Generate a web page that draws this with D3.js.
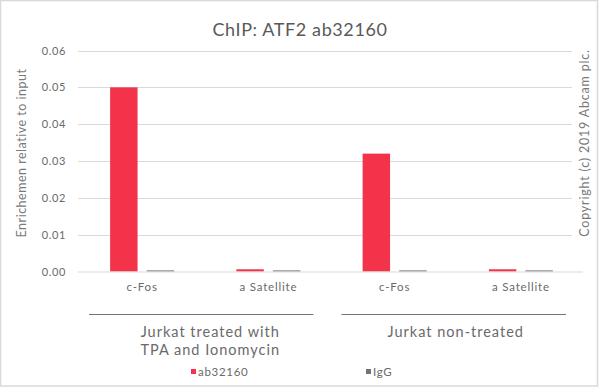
<!DOCTYPE html>
<html>
<head>
<meta charset="utf-8">
<script src="https://cdn.jsdelivr.net/npm/d3@7"></script>
<style>
  body { margin: 0; background: #fff; }
  svg { display: block; font-family: "Lato", "Open Sans", sans-serif; }
  text { fill: #6a6a6a; }
</style>
</head>
<body>
<div id="Chart"></div>
<script>
const categories = ["c-Fos", "a Satellite", "c-Fos ", "a Satellite "];
const catLabels = ["c-Fos", "a Satellite", "c-Fos", "a Satellite"];
const series = ["ab32160", "IgG"];
const ab32160 = [0.050, 0.0006, 0.032, 0.0006];
const igg = [0.0003, 0.0003, 0.0003, 0.0003];
const groups = [["Jurkat treated with", "TPA and Ionomycin"], ["Jurkat  non-treated"]];
const yTicks = [0, 0.01, 0.02, 0.03, 0.04, 0.05, 0.06];
const colors = {ab32160: "#f23349", IgG: "#737373"};

const W = 600, H = 387;
const dim = {left: 79, right: 584, top: 50.5, bottom: 271.5, gridEnd: 572};

const svg = d3.select("#Chart").append("svg")
  .attr("width", W).attr("height", H);

// frame
svg.append("rect")
  .attr("x", 0.5).attr("y", 0.5).attr("width", W - 3).attr("height", H - 1.5)
  .attr("fill", "none").attr("stroke", "#d9d9d9").attr("stroke-width", 1.5);

const y = d3.scaleLinear().domain([0, 0.06]).range([dim.bottom, dim.top]);
const x0 = d3.scaleBand().domain(categories).range([dim.left, dim.right])
  .paddingInner(0.493).paddingOuter(0.2465);
const x1 = d3.scaleBand().domain(series).range([0, x0.bandwidth()]).paddingInner(0.25);

svg.append("text")
  .attr("x", 300).attr("y", 36)
  .attr("text-anchor", "middle")
  .attr("font-size", 18)
  .attr("letter-spacing", 0.6)
  .style("fill", "#595959")
  .text("ChIP: ATF2 ab32160");

// gridlines
svg.append("g").selectAll("line").data(yTicks.slice(1)).join("line")
  .attr("x1", dim.left - 1).attr("x2", dim.gridEnd)
  .attr("y1", d => Math.round(y(d)) + 0.5).attr("y2", d => Math.round(y(d)) + 0.5)
  .attr("stroke", "#d9d9d9");

const yAxis = svg.append("g")
  .attr("transform", `translate(${dim.left - 1},0)`)
  .call(d3.axisLeft(y).tickValues(yTicks).tickFormat(d3.format(".2f")).tickSize(0).tickPadding(12));
yAxis.select(".domain").remove();
yAxis.selectAll("text")
  .attr("font-size", 11).attr("font-family", "Lato, sans-serif")
  .attr("letter-spacing", 0.6)
  .style("fill", "#6a6a6a");

// bars
const rows = categories.map((c, i) => ({cat: c, values: [
  {key: "ab32160", value: ab32160[i]},
  {key: "IgG", value: igg[i]}
]}));
svg.append("g").selectAll("g").data(rows).join("g")
  .attr("transform", d => `translate(${x0(d.cat)},0)`)
  .selectAll("rect").data(d => d.values).join("rect")
    .attr("x", d => x1(d.key))
    .attr("y", d => y(d.value))
    .attr("width", x1.bandwidth())
    .attr("height", d => y(0) - y(d.value))
    .attr("fill", d => colors[d.key]);

// baseline
svg.append("line")
  .attr("x1", dim.left - 1).attr("x2", dim.right - 1)
  .attr("y1", dim.bottom + 0.5).attr("y2", dim.bottom + 0.5)
  .attr("stroke", "#d9d9d9");

// category labels
svg.append("g").selectAll("text").data(categories).join("text")
  .attr("x", d => x0(d) + x0.bandwidth() / 2)
  .attr("y", 291)
  .attr("text-anchor", "middle")
  .attr("font-size", 11.5)
  .attr("letter-spacing", 0.8)
  .text((d, i) => catLabels[i]);

// group lines and labels
const step = x0.step();
groups.forEach((lines, gi) => {
  const start = dim.left + gi * 2 * step;
  const end = start + 2 * step;
  svg.append("line")
    .attr("x1", start + 10).attr("x2", end - 18)
    .attr("y1", 314.5).attr("y2", 314.5)
    .attr("stroke", "#737373").attr("stroke-width", 1);
  const cx = (start + end) / 2 + (gi === 0 ? 5 : -2);
  svg.append("g").selectAll("text").data(lines).join("text")
    .attr("x", cx)
    .attr("y", (d, i) => 337 + i * 18)
    .attr("text-anchor", "middle")
    .attr("font-size", 14.5)
    .attr("letter-spacing", 1)
    .text(d => d);
});

// legend
const legendX = [191, 366];
const legend = svg.append("g").selectAll("g").data(series).join("g")
  .attr("transform", (d, i) => `translate(${legendX[i]},0)`);
legend.append("rect")
  .attr("x", 0).attr("y", 369).attr("width", 5).attr("height", 5)
  .attr("fill", d => colors[d]);
legend.append("text")
  .attr("x", 7).attr("y", 376)
  .attr("font-size", 11.5)
  .attr("letter-spacing", 0.7)
  .text(d => d);

// axis title
svg.append("text")
  .attr("transform", "translate(26,153) rotate(-90)")
  .attr("text-anchor", "middle")
  .attr("font-size", 12.5)
  .attr("letter-spacing", 0.5)
  .style("fill", "#7a7a7a")
  .text("Enrichemen relative to input");

svg.append("text")
  .attr("transform", "translate(589,143) rotate(-90)")
  .attr("text-anchor", "middle")
  .attr("font-size", 12.5)
  .attr("letter-spacing", 0.8)
  .style("fill", "#7a7a7a")
  .text("Copyright (c) 2019 Abcam plc.");
</script>
</body>
</html>
